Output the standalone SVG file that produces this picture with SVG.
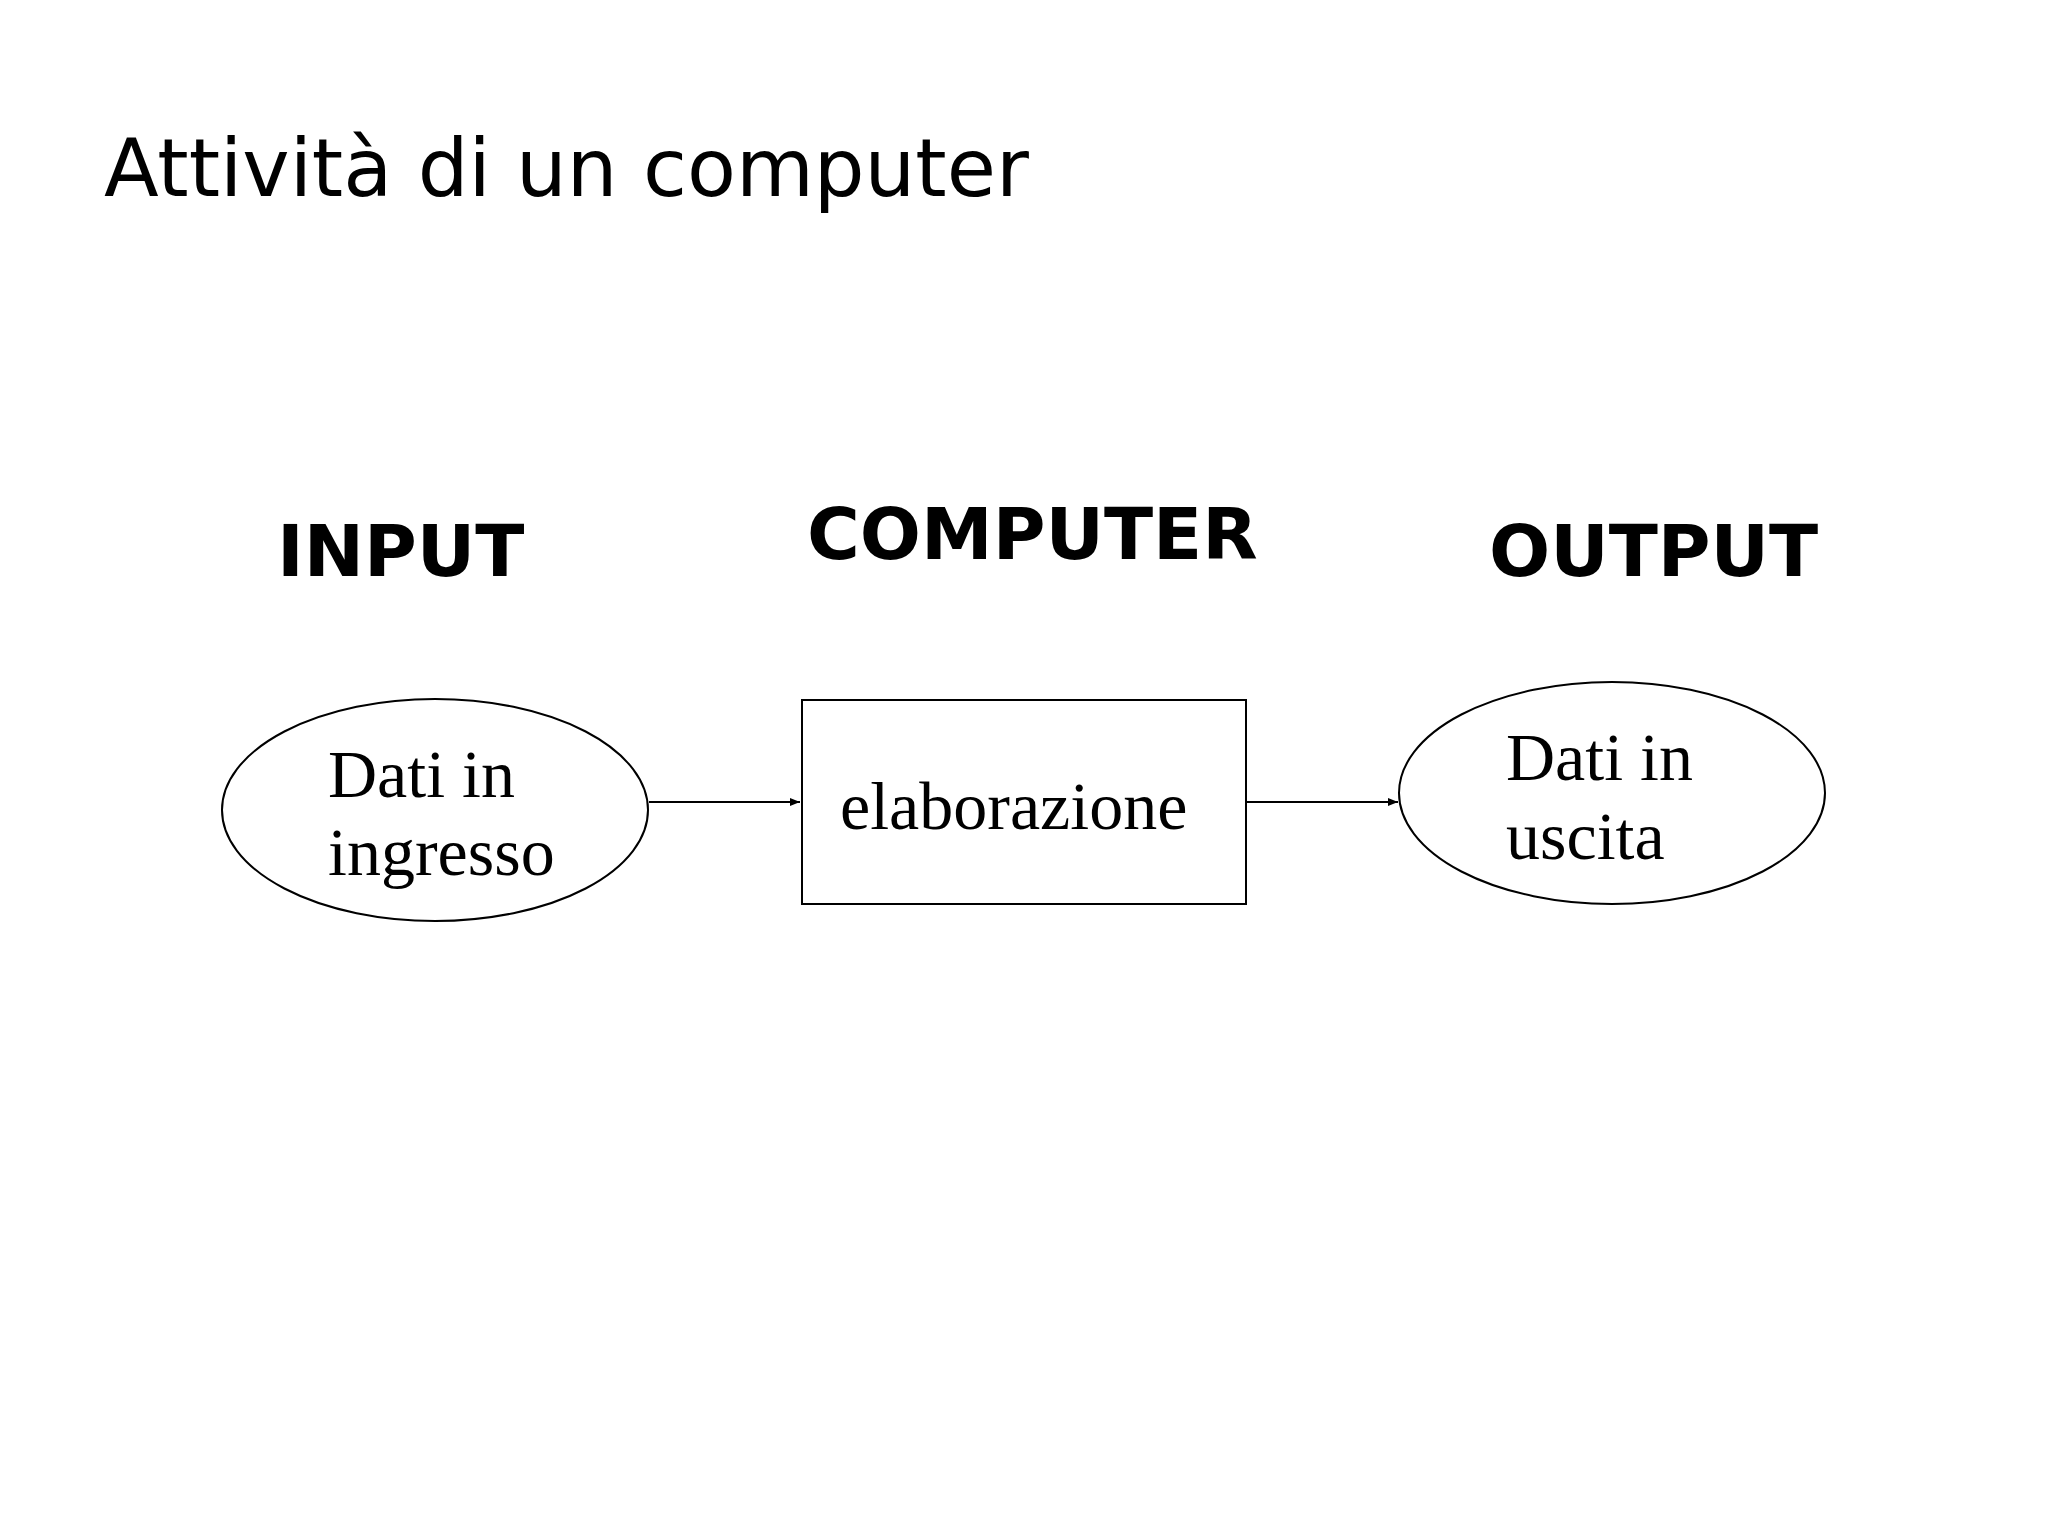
<svg xmlns="http://www.w3.org/2000/svg" width="2048" height="1536" viewBox="0 0 2048 1536">
<style>
.h{font-family:"DejaVu Sans",Verdana,sans-serif;font-weight:bold;font-size:72px;fill:#000}
.t{font-family:"Liberation Serif","Times New Roman",serif;font-size:68px;fill:#000}
.s{fill:#fff;stroke:#000;stroke-width:2}
</style>
<defs><marker id="a" markerWidth="10" markerHeight="8" refX="10" refY="4" orient="auto" markerUnits="userSpaceOnUse"><path d="M0,0L10,4L0,8z"/></marker></defs>
<rect width="2048" height="1536" fill="#fff"/>
<text x="104" y="196" font-family="DejaVu Sans,Verdana,sans-serif" font-size="80">Attività di un computer</text>
<text class="h" x="277" y="576">INPUT</text>
<text class="h" x="807" y="559">COMPUTER</text>
<text class="h" x="1489" y="576">OUTPUT</text>
<g id="input"><ellipse class="s" cx="435" cy="810" rx="213" ry="111"/><text class="t" x="328" y="797">Dati in</text><text class="t" x="328" y="875">ingresso</text></g>
<g id="computer"><rect class="s" x="802" y="700" width="444" height="204"/><text class="t" x="840" y="829">elaborazione</text></g>
<g id="output"><ellipse class="s" cx="1612" cy="793" rx="213" ry="111"/><text class="t" x="1506" y="780">Dati in</text><text class="t" x="1506" y="859">uscita</text></g>
<g id="connectors" stroke="#000" stroke-width="2"><line x1="649" y1="802" x2="800" y2="802" marker-end="url(#a)"/><line x1="1247" y1="802" x2="1398" y2="802" marker-end="url(#a)"/></g>
</svg>
